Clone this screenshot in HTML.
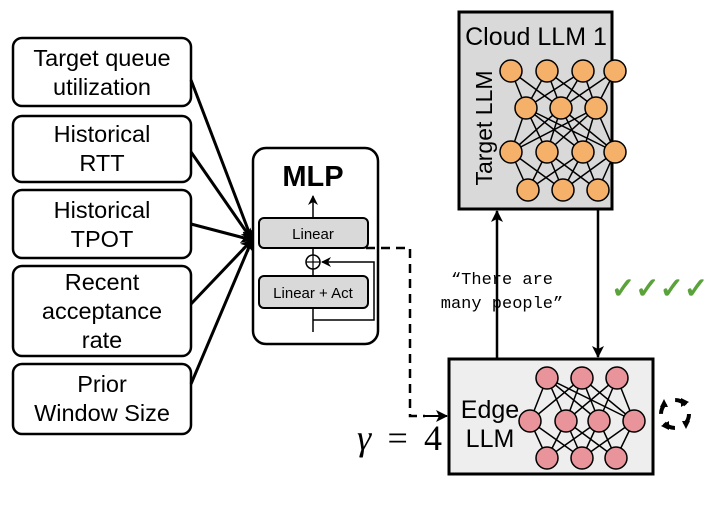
<!DOCTYPE html>
<html><head><meta charset="utf-8"><style>body{margin:0;background:#fff}svg{display:block}</style></head>
<body>
<svg width="722" height="517" viewBox="0 0 722 517" xmlns="http://www.w3.org/2000/svg" font-family="Liberation Sans, sans-serif">
<defs>
<marker id="ah" markerWidth="12" markerHeight="12" refX="11" refY="6" orient="auto" markerUnits="userSpaceOnUse"><path d="M0,0 L12,6 L0,12 L3,6 z" fill="#000"/></marker>
<marker id="as" markerWidth="10" markerHeight="10" refX="9" refY="5" orient="auto" markerUnits="userSpaceOnUse"><path d="M0,0 L10,5 L0,10 L3,5 z" fill="#000"/></marker>
</defs>
<g fill="#fff" stroke="#000" stroke-width="2.5">
<rect x="13" y="38" width="178" height="68" rx="9"/>
<rect x="13" y="116" width="178" height="66" rx="9"/>
<rect x="13" y="190" width="178" height="68" rx="9"/>
<rect x="13" y="266" width="178" height="90" rx="9"/>
<rect x="13" y="364" width="178" height="70" rx="9"/>
</g>
<g font-size="23.5" text-anchor="middle" fill="#000">
<text x="102" y="66">Target queue</text><text x="102" y="95">utilization</text>
<text x="102" y="142">Historical</text><text x="102" y="171">RTT</text>
<text x="102" y="218">Historical</text><text x="102" y="247">TPOT</text>
<text x="102" y="290">Recent</text><text x="102" y="319">acceptance</text><text x="102" y="348">rate</text>
<text x="102" y="392">Prior</text><text x="102" y="421">Window Size</text>
</g>
<g stroke="#000" stroke-width="3" marker-end="url(#ah)">
<line x1="191" y1="80" x2="252" y2="240"/>
<line x1="191" y1="152" x2="252" y2="240"/>
<line x1="191" y1="224" x2="252" y2="240"/>
<line x1="191" y1="304" x2="252" y2="240"/>
<line x1="191" y1="384" x2="252" y2="240"/>
</g>
<!-- MLP -->
<rect x="253" y="148" width="125" height="196" rx="13" fill="#fff" stroke="#000" stroke-width="2.5"/>
<text x="313" y="186" font-size="29" font-weight="bold" text-anchor="middle">MLP</text>
<line x1="313" y1="218" x2="313" y2="196" stroke="#000" stroke-width="1.5" marker-end="url(#as)"/>
<rect x="259" y="218" width="109" height="30" rx="5" fill="#d9d9d9" stroke="#000" stroke-width="2"/>
<text x="313" y="239" font-size="15" text-anchor="middle">Linear</text>
<line x1="313" y1="248" x2="313" y2="276" stroke="#000" stroke-width="1.5"/>
<circle cx="313" cy="262" r="7" fill="#fff" stroke="#000" stroke-width="1.5"/>
<line x1="306" y1="262" x2="320" y2="262" stroke="#000" stroke-width="1.2"/>
<line x1="313" y1="255" x2="313" y2="269" stroke="#000" stroke-width="1.2"/>
<rect x="259" y="276" width="109" height="32" rx="5" fill="#d9d9d9" stroke="#000" stroke-width="2"/>
<text x="313" y="298" font-size="15" text-anchor="middle">Linear + Act</text>
<line x1="313" y1="308" x2="313" y2="332" stroke="#000" stroke-width="1.5"/>
<polyline points="313,320 374,320 374,262 322,262" fill="none" stroke="#000" stroke-width="1.5" marker-end="url(#as)"/>
<!-- dashed -->
<polyline points="366,248 410,248 410,416 425,416" fill="none" stroke="#000" stroke-width="2.5" stroke-dasharray="9,6"/>
<line x1="425" y1="416" x2="447" y2="416" stroke="#000" stroke-width="2" marker-end="url(#ah)"/>
<!-- Cloud -->
<rect x="459" y="12" width="153" height="197" fill="#d9d9d9" stroke="#000" stroke-width="3"/>
<text x="536" y="45" font-size="25" text-anchor="middle">Cloud LLM 1</text>
<text transform="translate(492,128) rotate(-90)" font-size="23" text-anchor="middle">Target LLM</text>
<g stroke="#000" stroke-width="1.5">
<path d="M511,71L526,108M511,71L561,108M547,71L526,108M547,71L561,108M547,71L596,108M583,71L526,108M583,71L561,108M583,71L596,108M615,71L561,108M615,71L596,108
M526,108L511,152M526,108L547,152M526,108L583,152M526,108L615,152M561,108L511,152M561,108L547,152M561,108L583,152M561,108L615,152M596,108L511,152M596,108L547,152M596,108L583,152M596,108L615,152
M511,152L528,190M511,152L563,190M547,152L528,190M547,152L563,190M547,152L598,190M583,152L528,190M583,152L563,190M583,152L598,190M615,152L563,190M615,152L598,190"/>
</g>
<g fill="#f5b06a" stroke="#000" stroke-width="1.5">
<circle cx="511" cy="71" r="11"/><circle cx="547" cy="71" r="11"/><circle cx="583" cy="71" r="11"/><circle cx="615" cy="71" r="11"/>
<circle cx="526" cy="108" r="11"/><circle cx="561" cy="108" r="11"/><circle cx="596" cy="108" r="11"/>
<circle cx="511" cy="152" r="11"/><circle cx="547" cy="152" r="11"/><circle cx="583" cy="152" r="11"/><circle cx="615" cy="152" r="11"/>
<circle cx="528" cy="190" r="11"/><circle cx="563" cy="190" r="11"/><circle cx="598" cy="190" r="11"/>
</g>
<!-- arrows between -->
<line x1="497" y1="359" x2="497" y2="211" stroke="#000" stroke-width="2.5" marker-end="url(#ah)"/>
<line x1="598" y1="209" x2="598" y2="357" stroke="#000" stroke-width="2.5" marker-end="url(#ah)"/>
<text x="502" y="284" font-family="Liberation Mono, monospace" font-size="17" text-anchor="middle">“There are</text>
<text x="502" y="308" font-family="Liberation Mono, monospace" font-size="17" text-anchor="middle">many people”</text>
<text x="611" y="298" font-size="29" font-weight="bold" fill="#5aa33a">✓✓✓✓</text>
<!-- Edge -->
<rect x="449" y="359" width="204" height="115" fill="#eeeeee" stroke="#000" stroke-width="3"/>
<text x="490" y="418" font-size="25" text-anchor="middle">Edge</text>
<text x="490" y="447" font-size="25" text-anchor="middle">LLM</text>
<g stroke="#000" stroke-width="1.5">
<path d="M547,378L530,421M547,378L566,421M547,378L599,421M547,378L634,421M582,378L530,421M582,378L566,421M582,378L599,421M582,378L634,421M617,378L566,421M617,378L599,421M617,378L634,421
M530,421L547,458M530,421L582,458M566,421L547,458M566,421L582,458M566,421L616,458M599,421L547,458M599,421L582,458M599,421L616,458M634,421L582,458M634,421L616,458"/>
</g>
<g fill="#e8949a" stroke="#000" stroke-width="1.5">
<circle cx="547" cy="378" r="11"/><circle cx="582" cy="378" r="11"/><circle cx="617" cy="378" r="11"/>
<circle cx="530" cy="421" r="11"/><circle cx="566" cy="421" r="11"/><circle cx="599" cy="421" r="11"/><circle cx="634" cy="421" r="11"/>
<circle cx="547" cy="458" r="11"/><circle cx="582" cy="458" r="11"/><circle cx="616" cy="458" r="11"/>
</g>
<text x="357" y="450" font-family="Liberation Serif, serif" font-size="36" textLength="85" lengthAdjust="spacing"><tspan font-style="italic">γ</tspan> = 4</text>
<!-- cycle icon -->
<circle cx="675" cy="414" r="14" fill="none" stroke="#000" stroke-width="4" stroke-dasharray="12,10"/>
<path d="M681,398 l8,4 l-8,5z M669,430 l-8,-4 l8,-5z M660,407 l4,-8 l4,8z M690,421 l-4,8 l-4,-8z" fill="#000"/>
</svg>
</body></html>
